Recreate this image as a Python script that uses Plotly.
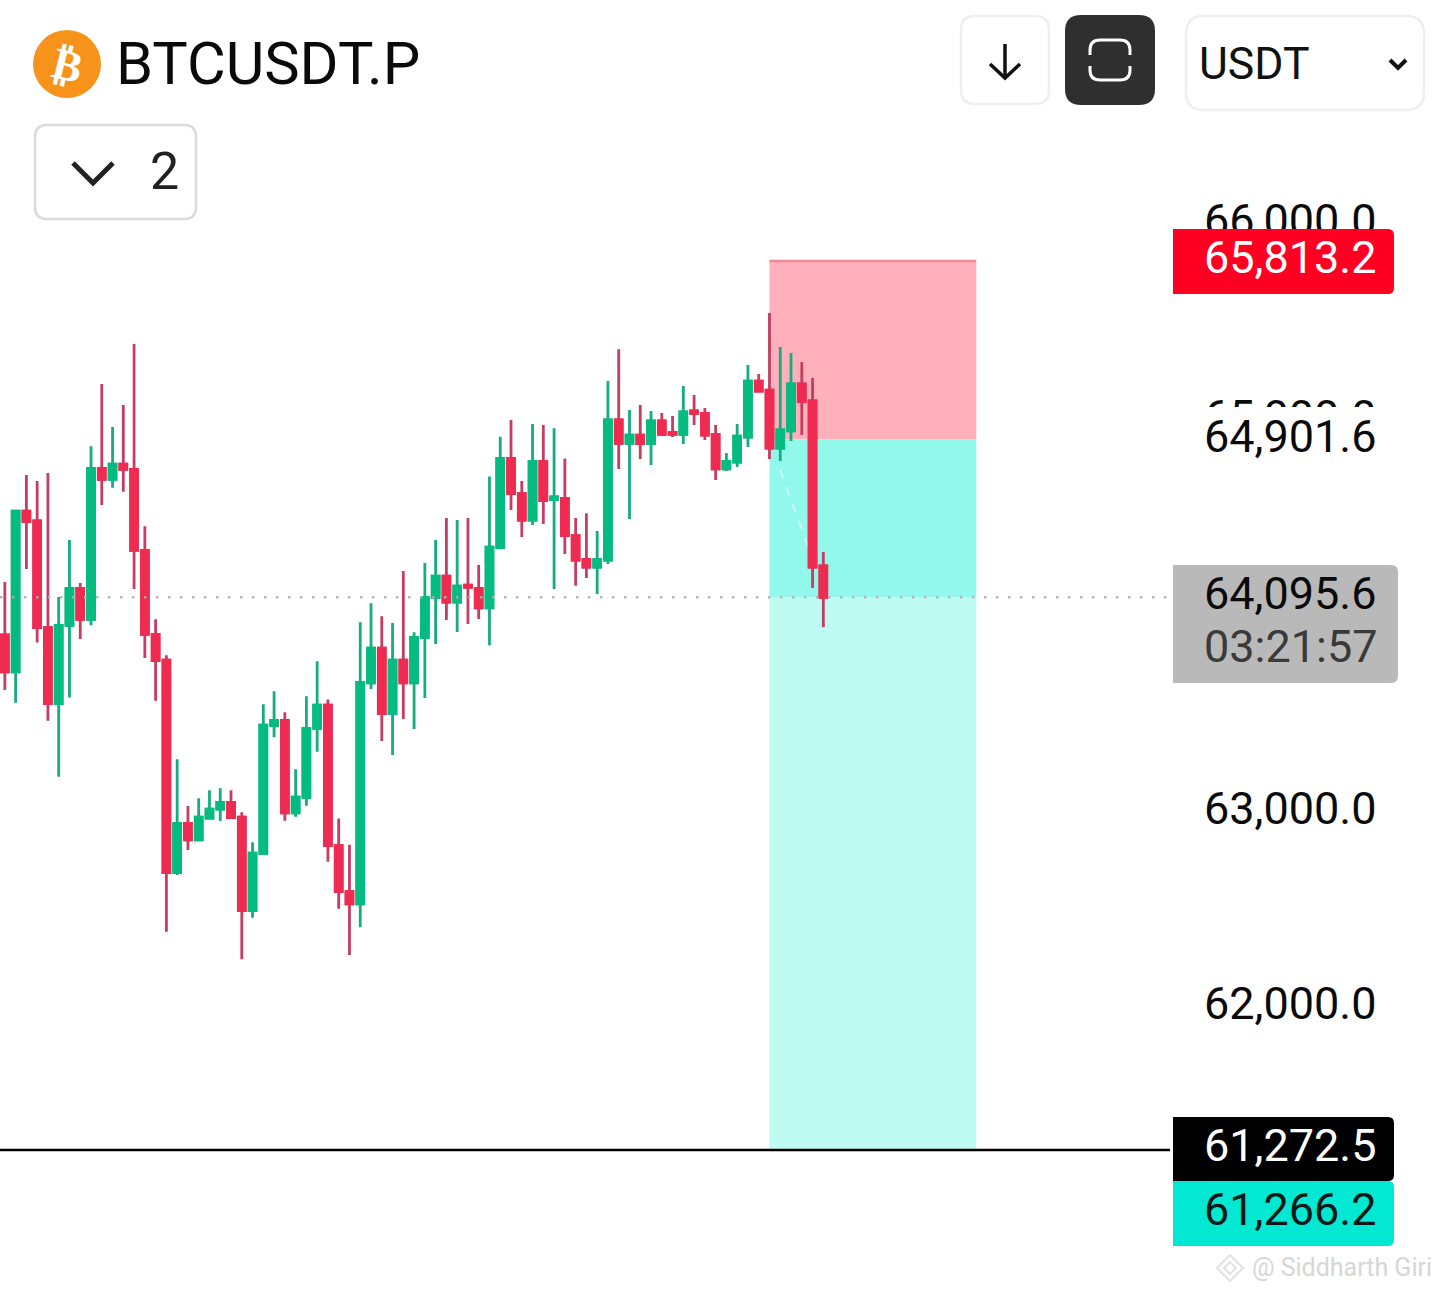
import plotly.graph_objects as go

# BTCUSDT.P candles
opens = [63903, 63715, 64536, 64485, 63940, 63552, 63952, 64141, 63983, 64754,
         64698, 64775, 64749, 64335, 63906, 63775, 62689, 62941, 62856, 62967,
         63013, 63048, 62972, 62495, 62788, 63440, 63467, 62995, 63074, 63426,
         63544, 62827, 62592, 62530, 63658, 63836, 63501, 63774, 63658, 63891,
         64095, 64204, 64071, 64157, 64141, 64041, 64349, 64805, 64625, 64490,
         64790, 64594, 64601, 64410, 64289, 64250, 64286, 65001, 64882, 64923,
         64880, 64996, 64938, 64928, 65047, 65035, 64928, 64751, 64786, 64914,
         65200, 65154, 64858, 64946, 65185, 65098, 64256]
highs = [64174, 64540, 64720, 64689, 64730, 64097, 64388, 64168, 64867, 65185,
         64965, 65078, 65389, 64458, 63983, 63799, 63268, 63029, 63069, 63110,
         63120, 63110, 62997, 62844, 63549, 63615, 63508, 63217, 63590, 63769,
         63574, 62965, 62832, 63968, 64065, 63998, 63964, 64230, 63917, 64271,
         64388, 64500, 64490, 64500, 64260, 64713, 64916, 65001, 64689, 64981,
         64975, 64959, 64805, 64500, 64525, 64434, 65200, 65362, 65052, 65078,
         65047, 65037, 65021, 65175, 65129, 65062, 64975, 64832, 64981, 65282,
         65236, 65548, 65374, 65343, 65297, 65216, 64327]
lows = [63622, 63557, 64240, 63864, 63465, 63179, 63583, 63882, 63952, 64567,
        64655, 64635, 64138, 63785, 63567, 62387, 62677, 62805, 62856, 62963,
        62953, 62970, 62246, 62459, 62788, 63380, 62954, 62975, 63031, 63307,
        62745, 62505, 62268, 62410, 63627, 63361, 63290, 63474, 63423, 63581,
        63857, 63979, 63918, 63959, 63985, 63850, 64349, 64541, 64403, 64465,
        64470, 64138, 64317, 64155, 64194, 64112, 64265, 64751, 64495, 64802,
        64771, 64919, 64914, 64878, 64975, 64899, 64695, 64740, 64761, 64863,
        65144, 64802, 64792, 64894, 64924, 64143, 63942]
closes = [63715, 64536, 64482, 63940, 63552, 63952, 64141, 63983, 64754, 64698,
          64775, 64749, 64335, 63906, 63772, 62689, 62941, 62856, 62972, 63013,
          63048, 62970, 62495, 62788, 63442, 63467, 62995, 63074, 63426, 63544,
          62827, 62592, 62530, 63661, 63836, 63501, 63774, 63658, 63891, 64095,
          64204, 64071, 64152, 64146, 64041, 64351, 64805, 64625, 64490, 64790,
          64589, 64608, 64410, 64286, 64250, 64288, 65001, 64882, 64924, 64880,
          64996, 64928, 64928, 65042, 65035, 64924, 64751, 64790, 64919, 65200,
          65148, 64858, 64950, 65185, 65095, 64250, 64095.6]
candle_index = list(range(len(closes)))

tick_values = [66000, 65000, 64000, 63000, 62000]
tick_labels = ["66,000.0", "65,000.0", "64,000.0", "63,000.0", "62,000.0"]

stop_price = 65813.2
entry_price = 64901.6
last_price = 64095.6
target_price = 61266.2
line_price = 61272.5
countdown = "03:21:57"
zone_start = 71.0
zone_end = 90.2

WIDTH = 1440
HEIGHT = 1292
PLOT_W = 1170
FONT = "Roboto"


# screen pixels -> paper fractions, only for the app chrome around the chart
def px(x):
    return x / PLOT_W


def py(y):
    return 1 - y / HEIGHT


def round_box(x0, y0, x1, y1, r, fill=None, stroke=None, sw=0, left_r=None):
    lr = r if left_r is None else left_r
    path = (f"M {px(x0 + lr)} {py(y0)} L {px(x1 - r)} {py(y0)} "
            f"Q {px(x1)} {py(y0)} {px(x1)} {py(y0 + r)} L {px(x1)} {py(y1 - r)} "
            f"Q {px(x1)} {py(y1)} {px(x1 - r)} {py(y1)} L {px(x0 + lr)} {py(y1)} "
            f"Q {px(x0)} {py(y1)} {px(x0)} {py(y1 - lr)} L {px(x0)} {py(y0 + lr)} "
            f"Q {px(x0)} {py(y0)} {px(x0 + lr)} {py(y0)} Z")
    return dict(type="path", xref="paper", yref="paper", path=path, layer="above",
                fillcolor=fill if fill else "rgba(0,0,0,0)",
                line=dict(color=stroke if stroke else "rgba(0,0,0,0)", width=sw))


def polyline(points, color, width):
    path = "M " + " L ".join(f"{px(x)} {py(y)}" for x, y in points)
    return dict(type="path", xref="paper", yref="paper", path=path, layer="above",
                line=dict(color=color, width=width))


def label(text, x, y, size, color, anchor="left", **kw):
    return dict(text=text, x=px(x), y=py(y), xref="paper", yref="paper", showarrow=False,
                xanchor=anchor, yanchor="middle", borderpad=0,
                font=dict(family=FONT, size=size, color=color), **kw)


fig = go.Figure()

# full candles give the darker wicks, the bodies go over them in the brighter colour
fig.add_trace(go.Candlestick(
    x=candle_index, open=opens, high=highs, low=lows, close=closes,
    increasing=dict(line=dict(color="#16AC80", width=2.8), fillcolor="#16AC80"),
    decreasing=dict(line=dict(color="#C53D60", width=2.8), fillcolor="#C53D60"),
    showlegend=False, hoverinfo="skip",
))
fig.add_trace(go.Candlestick(
    x=candle_index, open=opens, close=closes,
    high=[max(o, c) for o, c in zip(opens, closes)],
    low=[min(o, c) for o, c in zip(opens, closes)],
    increasing=dict(line=dict(color="#04BB80", width=2.8), fillcolor="#04BB80"),
    decreasing=dict(line=dict(color="#EF2B51", width=2.8), fillcolor="#EF2B51"),
    showlegend=False, hoverinfo="skip",
))

shapes = [
    # position tool
    dict(type="rect", xref="x", yref="y", x0=zone_start, x1=zone_end, y0=entry_price, y1=stop_price,
         fillcolor="#FFB0BA", line_width=0, layer="below"),
    dict(type="rect", xref="x", yref="y", x0=zone_start, x1=zone_end, y0=last_price, y1=entry_price,
         fillcolor="#93F8EC", line_width=0, layer="below"),
    dict(type="rect", xref="x", yref="y", x0=zone_start, x1=zone_end, y0=target_price, y1=last_price,
         fillcolor="#BDFBF3", line_width=0, layer="below"),
    dict(type="line", xref="x", yref="y", x0=zone_start, x1=zone_end, y0=stop_price, y1=stop_price,
         line=dict(color="#F08796", width=2.5), layer="below"),
    dict(type="line", xref="x", yref="y", x0=72, x1=74.6, y0=64746, y1=64352,
         line=dict(color="rgba(255,255,255,0.5)", width=2, dash="dash"), layer="below"),
    # last price and level lines
    dict(type="line", xref="paper", yref="y", x0=0, x1=1, y0=last_price, y1=last_price,
         line=dict(color="rgba(175,175,175,0.9)", width=2.5, dash="2.5px,9.5px"), layer="above"),
    dict(type="line", xref="paper", yref="y", x0=0, x1=1, y0=line_price, y1=line_price,
         line=dict(color="#000000", width=2.5), layer="above"),
    # price tags, these hide the axis labels behind them
    round_box(1173, 229, 1394, 294, 6, fill="#FF0022", left_r=0.01),
    round_box(1173, 407, 1394, 472, 6, fill="#FFFFFF", left_r=0.01),
    round_box(1173, 565, 1398, 683, 7, fill="#B9B9B9", left_r=0.01),
    round_box(1173, 1181, 1394, 1246, 6, fill="#02E8D2", left_r=0.01),
    round_box(1173, 1117, 1394, 1181, 6, fill="#000000", left_r=0.01),
    # header
    dict(type="circle", xref="paper", yref="paper", x0=px(33), x1=px(101), y0=py(98), y1=py(30),
         fillcolor="#F7931A", line_width=0, layer="above"),
    round_box(35, 125, 196, 219, 12, fill="#FFFFFF", stroke="#DADADA", sw=2.5),
    polyline([(73, 163), (93, 183), (113, 163)], "#222222", 5),
    round_box(961, 16, 1049, 104, 14, fill="#FFFFFF", stroke="#EFEFEF", sw=2.5),
    polyline([(1005, 44), (1005, 78)], "#111111", 3.5),
    polyline([(990, 64), (1005, 78), (1020, 64)], "#111111", 3.5),
    round_box(1065, 15, 1155, 105, 16, fill="#2F2F2F"),
    round_box(1186, 16, 1424, 110, 18, fill="#FFFFFF", stroke="#EFEFEF", sw=2.5),
    polyline([(1390, 60), (1398, 68), (1406, 60)], "#111111", 4),
]

# rounded square icon in the dark button, open at both sides
shapes.append(dict(type="path", xref="paper", yref="paper", layer="above",
                   line=dict(color="#FFFFFF", width=3),
                   path=(f"M {px(1090)} {py(55)} L {px(1090)} {py(50)} Q {px(1090)} {py(40)} {px(1100)} {py(40)} "
                         f"L {px(1120)} {py(40)} Q {px(1130)} {py(40)} {px(1130)} {py(50)} L {px(1130)} {py(55)} "
                         f"M {px(1090)} {py(66)} L {px(1090)} {py(70)} Q {px(1090)} {py(80)} {px(1100)} {py(80)} "
                         f"L {px(1120)} {py(80)} Q {px(1130)} {py(80)} {px(1130)} {py(70)} L {px(1130)} {py(66)}")))

# watermark diamond
shapes.append(polyline([(1230, 1255), (1243, 1268), (1230, 1281), (1217, 1268), (1230, 1255)], "#E2E2E2", 2))
shapes.append(polyline([(1230, 1262), (1236, 1268), (1230, 1274), (1224, 1268), (1230, 1262)], "#E2E2E2", 2))

annotations = [
    label("BTCUSDT.P", 115, 64, 59.5, "#0A0A0A"),
    label("<b>₿</b>", 67, 65, 44, "#FFFFFF", anchor="center", textangle=14),
    label("2", 164, 172, 52, "#222222", anchor="center"),
    label("USDT", 1198, 64, 44.5, "#111111"),
    label(f"{stop_price:,.1f}", 1203, 258, 45, "#FFFFFF"),
    label(f"{entry_price:,.1f}", 1203, 436, 45, "#0A0A0A"),
    label(f"{last_price:,.1f}", 1203, 593, 45, "#0A0A0A"),
    label(countdown, 1203, 646, 45, "#3A3A3A"),
    label(f"{line_price:,.1f}", 1203, 1145, 45, "#FFFFFF"),
    label(f"{target_price:,.1f}", 1203, 1209, 45, "#0A1A18"),
    label("@ Siddharth Giri", 1251, 1267, 25, "#D6D6D6"),
]

fig.update_layout(
    width=WIDTH,
    height=HEIGHT,
    margin=dict(l=0, r=WIDTH - PLOT_W, t=0, b=0),
    paper_bgcolor="#FFFFFF",
    plot_bgcolor="#FFFFFF",
    boxgap=0.09,
    showlegend=False,
    shapes=shapes,
    annotations=annotations,
    font=dict(family=FONT),
)
fig.update_xaxes(visible=False, range=[-0.45, 108.19], rangeslider_visible=False)
fig.update_yaxes(
    side="right",
    range=[60547, 67146.3],
    tickmode="array",
    tickvals=tick_values,
    ticktext=tick_labels,
    tickfont=dict(family=FONT, size=45, color="#0A0A0A"),
    ticks="outside",
    ticklen=24,
    ticklabelshift=-4,
    tickcolor="rgba(0,0,0,0)",
    showgrid=False,
    showline=False,
    zeroline=False,
)

fig.write_html("out.html", post_script="document.body.style.margin='0';", config=dict(displayModeBar=False))
